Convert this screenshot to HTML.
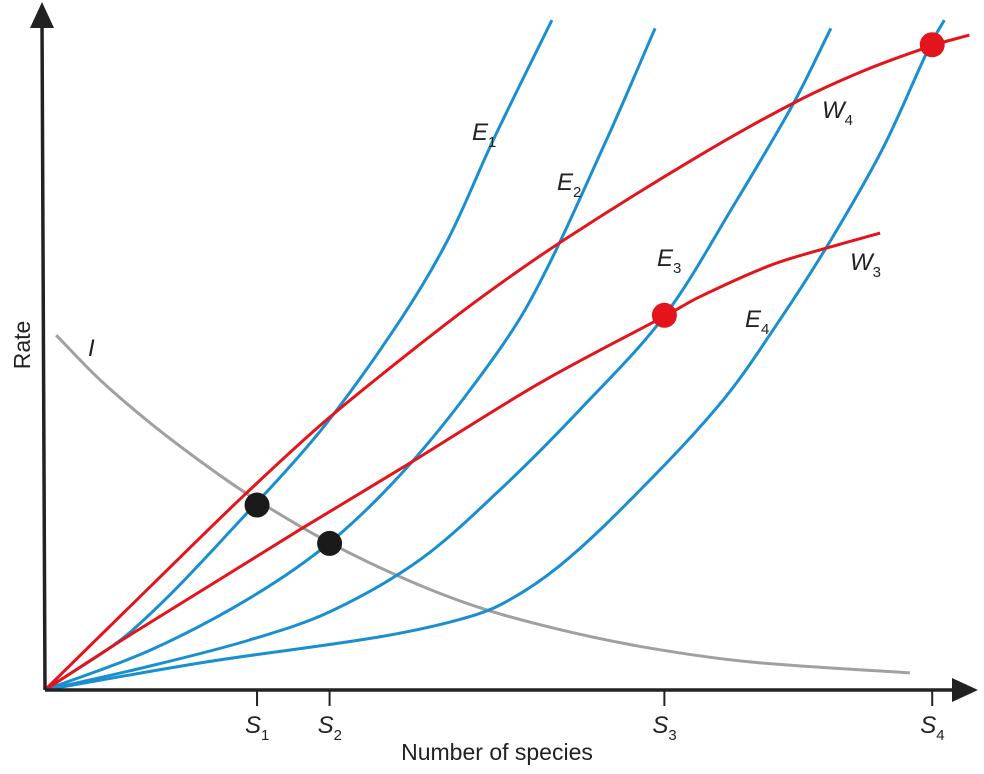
<!DOCTYPE html>
<html><head><meta charset="utf-8"><style>
html,body{margin:0;padding:0;background:#fff;}
svg{display:block;font-family:"Liberation Sans",sans-serif;}
</style></head><body>
<svg id="chart" width="984" height="774" viewBox="0 0 984 774"></svg>
<script>
// Data in unitless coordinates (x: number of species 0-100, y: rate 0-100)
const e1X=[0,9.46,22.8,30.3,38.2,43.3,48.2,54.5];
const e1Y=[0,8.8,27.4,39.0,54.0,65.7,80.3,97.8];
const e2X=[0,11.3,22.0,30.6,38.2,45.7,52.2,60.5,65.6];
const e2Y=[0,5.8,13.4,21.5,31.4,43.8,56.9,80.7,96.6];
const e3X=[0,11.3,22.0,30.6,40.3,48.9,57.5,66.6,74.2,80.5,84.5];
const e3Y=[0,3.5,7.3,11.4,19.0,29.2,40.9,54.6,71.1,85.7,96.6];
const e4X=[0,17.4,35.3,43.5,48.9,55.4,64.0,72.9,79.0,84.5,90.1,95.2,96.7];
const e4Y=[0,4.1,7.6,9.9,12.4,18.2,29.2,42.3,54.0,65.7,79.1,94.2,97.8];
const w4X=[0,15.3,21.7,29.9,38.2,46.8,55.8,70.1,80.5,88.2,95.7,99.4];
const w4Y=[0,20.4,28.8,39.0,48.2,57.2,65.7,77.8,85.7,90.5,94.2,95.6];
const w3X=[0,9.46,27.4,39.2,53.2,66.8,70.4,78.0,84.5,89.8];
const w3Y=[0,8.3,23.4,33.1,44.8,54.7,57.4,62.0,64.7,66.7];
const iX=[1.2,5.9,11.3,17.4,22.8,30.6,38.9,46.8,55.4,65.1,75.8,93.0];
const iY=[51.8,45.3,39.0,32.7,27.7,21.5,16.1,12.0,8.8,6.1,4.1,2.5];
const dotX=[22.8,30.6,66.6,95.4];
const dotY=[27,21.4,54.7,94.2];
const dotKind=['black','black','red','red'];
const tickLabels=['S1','S2','S3','S4'];
const tickVals=[22.8,30.6,66.6,95.4];

const X0=45,Y0=690,XS=9.3,YS=6.85;
const sx=v=>X0+v*XS, sy=v=>Y0-v*YS;
const NS='http://www.w3.org/2000/svg';
const svg=document.getElementById('chart');
function mk(t,a,p){const e=document.createElementNS(NS,t);for(const k in a)e.setAttribute(k,a[k]);(p||svg).appendChild(e);return e;}
function pathD(xs,ys){
  const p=xs.map((x,i)=>[sx(x),sy(ys[i])]);
  const n=p.length, dist=(a,b)=>Math.hypot(a[0]-b[0],a[1]-b[1]);
  const tan=p.map((pt,i)=>{
    if(i===0)return [p[1][0]-p[0][0],p[1][1]-p[0][1]].map(v=>v/dist(p[0],p[1]));
    if(i===n-1)return [p[i][0]-p[i-1][0],p[i][1]-p[i-1][1]].map(v=>v/dist(p[i],p[i-1]));
    const a=[p[i+1][0]-p[i-1][0],p[i+1][1]-p[i-1][1]];const L=Math.hypot(a[0],a[1]);
    return [a[0]/L,a[1]/L];
  });
  let d='M'+p[0][0].toFixed(1)+','+p[0][1].toFixed(1);
  for(let i=0;i<n-1;i++){
    const L=dist(p[i],p[i+1])/3;
    const c1=[p[i][0]+tan[i][0]*L,p[i][1]+tan[i][1]*L];
    const c2=[p[i+1][0]-tan[i+1][0]*L,p[i+1][1]-tan[i+1][1]*L];
    d+=' C'+c1.map(v=>v.toFixed(1))+' '+c2.map(v=>v.toFixed(1))+' '+p[i+1].map(v=>v.toFixed(1));
  }
  return d;
}
const BLUE='#1a8fd0',RED='#e3141c',GRAY='#a0a0a0';
const curves=[['curve-i',iX,iY,GRAY],['curve-e1',e1X,e1Y,BLUE],['curve-e2',e2X,e2Y,BLUE],['curve-e3',e3X,e3Y,BLUE],['curve-e4',e4X,e4Y,BLUE],['curve-w3',w3X,w3Y,RED],['curve-w4',w4X,w4Y,RED]];
curves.forEach(c=>{
  const el=mk('path',{d:pathD(c[1],c[2]),fill:'none',stroke:c[3],'stroke-width':3});
  
  
});
const ax=mk('path',{d:'M45,690 L42,20 M45,690 L960,690',stroke:'#222','stroke-width':3.5,fill:'none'});


const ya=mk('polygon',{points:'42,2 30,28 54,28',fill:'#222'});


const xa=mk('polygon',{points:'978,690 952,678 952,702',fill:'#222'});


tickVals.forEach((v,i)=>{
  const t=mk('line',{x1:sx(v),x2:sx(v),y1:690,y2:706,stroke:'#222','stroke-width':2});
  
  
  const tx=mk('text',{x:sx(v)-12,y:733,'font-size':24,'font-style':'italic',fill:'#222'});
  
  
  tx.innerHTML=tickLabels[i][0]+'<tspan font-size="15" dy="7" font-style="normal">'+tickLabels[i].slice(1)+'</tspan>';
});
dotX.forEach((v,i)=>{
  const c=mk('circle',{cx:sx(v),cy:sy(dotY[i]),r:12.5,fill:dotKind[i]==='red'?RED:'#1a1a1a'});
  
  
});
const labels=[['E','1',472,140],['E','2',557,190],['E','3',657,266],['E','4',745,327],['W','4',822,118],['W','3',850,270]];
labels.forEach(l=>{
  const t=mk('text',{x:l[2],y:l[3],'font-size':24,'font-style':'italic',fill:'#222'});
  
  
  t.innerHTML=l[0]+'<tspan font-size="15" dy="7" font-style="normal">'+l[1]+'</tspan>';
});
const il=mk('text',{x:88,y:356,'font-size':24,'font-style':'italic',fill:'#222'});
il.textContent='I';


const yt=mk('text',{x:30,y:345,'font-size':23,fill:'#222','text-anchor':'middle',transform:'rotate(-90 30 345)'});
yt.textContent='Rate';


const xt=mk('text',{x:497,y:760,'font-size':23,fill:'#222','text-anchor':'middle'});
xt.textContent='Number of species';


</script>
</body></html>
